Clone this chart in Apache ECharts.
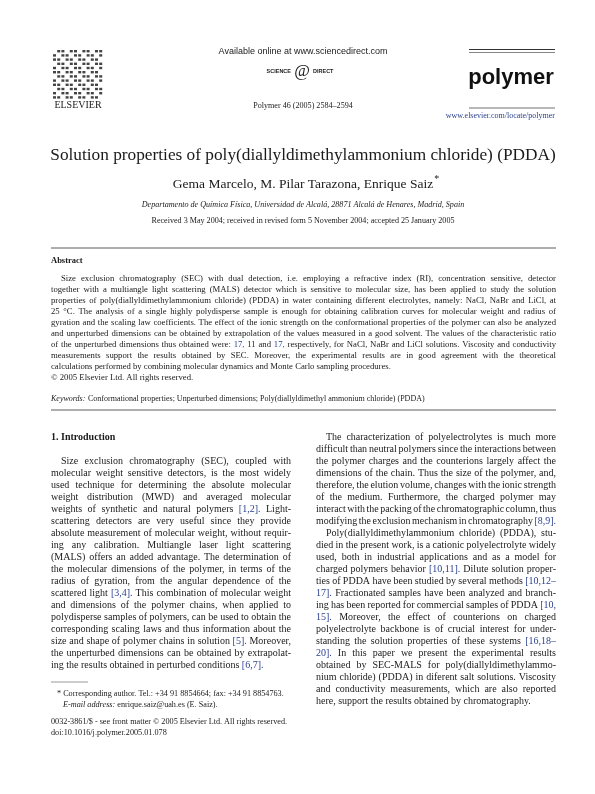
<!DOCTYPE html>
<html><head><meta charset="utf-8">
<script src="https://cdn.jsdelivr.net/npm/echarts@6/dist/echarts.min.js"></script>
<style>html,body{margin:0;padding:0;background:#fff}#page{width:595px;height:794px}</style>
</head><body><div id="page"></div>
<script>
var serif = '"Liberation Serif", "DejaVu Serif", serif';
var sans = '"Liberation Sans", Arial, sans-serif';

var title = 'Solution properties of poly(diallyldimethylammonium chloride) (PDDA)';
var authors = 'Gema Marcelo, M. Pilar Tarazona, Enrique Saiz';
var affiliation = 'Departamento de Química Física, Universidad de Alcalá, 28871 Alcalá de Henares, Madrid, Spain';
var received = 'Received 3 May 2004; received in revised form 5 November 2004; accepted 25 January 2005';

// '>' marks an indented first line, '|' a line that is not justified
var abstractLines = [
  '>Size exclusion chromatography (SEC) with dual detection, i.e. employing a refractive index (RI), concentration sensitive, detector',
  'together with a multiangle light scattering (MALS) detector which is sensitive to molecular size, has been applied to study the solution',
  'properties of poly(diallyldimethylammonium chloride) (PDDA) in water containing different electrolytes, namely: NaCl, NaBr and LiCl, at',
  '25 °C. The analysis of a single highly polydisperse sample is enough for obtaining calibration curves for molecular weight and radius of',
  'gyration and the scaling law coefficients. The effect of the ionic strength on the conformational properties of the polymer can also be analyzed',
  'and unperturbed dimensions can be obtained by extrapolation of the values measured in a good solvent. The values of the characteristic ratio',
  'of the unperturbed dimensions thus obtained were: 17, 11 and 17, respectively, for NaCl, NaBr and LiCl solutions. Viscosity and conductivity',
  'measurements support the results obtained by SEC. Moreover, the experimental results are in good agreement with the theoretical',
  '|calculations performed by combining molecular dynamics and Monte Carlo sampling procedures.',
  '|© 2005 Elsevier Ltd. All rights reserved.'
];

var leftLines = [
  '>Size exclusion chromatography (SEC), coupled with',
  'molecular weight sensitive detectors, is the most widely',
  'used technique for determining the absolute molecular',
  'weight distribution (MWD) and averaged molecular',
  'weights of synthetic and natural polymers [1,2]. Light-',
  'scattering detectors are very useful since they provide',
  'absolute measurement of molecular weight, without requir-',
  'ing any calibration. Multiangle laser light scattering',
  '(MALS) offers an added advantage. The determination of',
  'the molecular dimensions of the polymer, in terms of the',
  'radius of gyration, from the angular dependence of the',
  'scattered light [3,4]. This combination of molecular weight',
  'and dimensions of the polymer chains, when applied to',
  'polydisperse samples of polymers, can be used to obtain the',
  'corresponding scaling laws and thus information about the',
  'size and shape of polymer chains in solution [5]. Moreover,',
  'the unperturbed dimensions can be obtained by extrapolat-',
  '|ing the results obtained in perturbed conditions [6,7].'
];

var rightLines = [
  '>The characterization of polyelectrolytes is much more',
  'difficult than neutral polymers since the interactions between',
  'the polymer charges and the counterions largely affect the',
  'dimensions of the chain. Thus the size of the polymer, and,',
  'therefore, the elution volume, changes with the ionic strength',
  'of the medium. Furthermore, the charged polymer may',
  'interact with the packing of the chromatographic column, thus',
  'modifying the exclusion mechanism in chromatography [8,9].',
  '>Poly(diallyldimethylammonium chloride) (PDDA), stu-',
  'died in the present work, is a cationic polyelectrolyte widely',
  'used, both in industrial applications and as a model for',
  'charged polymers behavior [10,11]. Dilute solution proper-',
  'ties of PDDA have been studied by several methods [10,12–',
  '17]. Fractionated samples have been analyzed and branch-',
  'ing has been reported for commercial samples of PDDA [10,',
  '15]. Moreover, the effect of counterions on charged',
  'polyelectrolyte backbone is of crucial interest for under-',
  'standing the solution properties of these systems [16,18–',
  '20]. In this paper we present the experimental results',
  'obtained by SEC-MALS for poly(diallyldimethylammo-',
  'nium chloride) (PDDA) in diferent salt solutions. Viscosity',
  'and conductivity measurements, which are also reported',
  '|here, support the results obtained by chromatography.'
];

var footnoteLines = [
  '* Corresponding author. Tel.: +34 91 8854664; fax: +34 91 8854763.',
  'enrique.saiz@uah.es (E. Saiz).'
];
var bottomLines = [
  '0032-3861/$ - see front matter © 2005 Elsevier Ltd. All rights reserved.',
  'doi:10.1016/j.polymer.2005.01.078'
];

var ctx = document.createElement('canvas').getContext('2d');
function measure(s, font) { ctx.font = font; return ctx.measureText(s).width; }

function txt(x, y, s, size, extra) {
  extra = extra || {};
  return { type: 'text', silent: true, style: {
    text: s, x: x, y: y, font: (extra.font ? extra.font + ' ' : '') + size + 'px ' + (extra.family || serif),
    fill: extra.fill || '#1a1a1a', textAlign: extra.align || 'left', textVerticalAlign: 'middle' } };
}
function line(x1, y, x2, w) {
  return { type: 'line', silent: true, shape: { x1: x1, y1: y, x2: x2, y2: y }, style: { stroke: '#333', lineWidth: w || 0.6 } };
}

// justified block of lines, word by word; shrinks a line that would overflow
function block(els, lines, x0, x1, y0, step, size) {
  lines.forEach(function (raw, i) {
    var indent = 0, just = true, s = raw, sz = size;
    if (s[0] === '>') { indent = 10; s = s.slice(1); }
    if (s[0] === '|') { just = false; s = s.slice(1); }
    var words = s.split(' ');
    var font = sz + 'px ' + serif;
    var total = measure(words.join(''), font);
    var minSp = measure(' ', font) * 0.6;
    var room = x1 - x0 - indent - minSp * (words.length - 1);
    if (total > room) { sz = sz * room / total; font = sz + 'px ' + serif; }
    var widths = words.map(function (w) { return measure(w, font); });
    total = widths.reduce(function (a, b) { return a + b; }, 0);
    var sp = measure(' ', font);
    if (just && words.length > 1) sp = (x1 - x0 - indent - total) / (words.length - 1);
    var x = x0 + indent, y = y0 + i * step;
    words.forEach(function (w, k) {
      var cite = /[\[\]]/.test(w) || (/^\d+[\]–,]/.test(w));
      els.push(txt(x, y, w, sz, { fill: cite ? '#2a3f8f' : '#1a1a1a' }));
      x += widths[k] + sp;
    });
  });
}

var els = [];
// header
for (var r = 0; r < 12; r++) for (var c = 0; c < 12; c++) {
  if ((r * 7 + c * 5) % 3 !== 0) els.push({ type: 'rect', silent: true,
    shape: { x: 53 + c * 4.2, y: 50 + r * 4.2, width: 3, height: 2.4 }, style: { fill: '#444' } });
}
els.push(txt(78, 105, 'ELSEVIER', 10, { align: 'center' }));
els.push(txt(303, 52, 'Available online at www.sciencedirect.com', 9, { align: 'center', family: sans }));
els.push(txt(291, 71, 'SCIENCE', 5.5, { align: 'right', font: 'bold', family: sans }));
els.push(txt(302, 72, '@', 17, { align: 'center', family: serif }));
els.push(txt(313, 71, 'DIRECT', 5.5, { font: 'bold', family: sans }));
els.push(txt(303, 106, 'Polymer 46 (2005) 2584–2594', 8.1, { align: 'center' }));
els.push(line(469, 49.5, 555, 1));
els.push(line(469, 52.5, 555, 0.6));
els.push(txt(511, 78, 'polymer', 22, { align: 'center', font: 'bold', family: sans, fill: '#111' }));
els.push(line(469, 108, 555, 0.7));
els.push(txt(555, 116, 'www.elsevier.com/locate/polymer', 8, { align: 'right', fill: '#2a3f8f' }));
// title block
els.push(txt(303, 155, title, 17.3, { align: 'center' }));
els.push(txt(303, 184, authors, 13.5, { align: 'center' }));
els.push(txt(303 + measure(authors, '13.5px ' + serif) / 2 + 1, 179, '*', 10));
els.push(txt(303, 205, affiliation, 8.1, { align: 'center', font: 'italic' }));
els.push(txt(303, 221, received, 8.1, { align: 'center' }));
els.push(line(51, 248, 556, 0.8));
els.push(txt(51, 261, 'Abstract', 8.5, { font: 'bold' }));
block(els, abstractLines, 51, 556, 279, 11, 8.7);
els.push(txt(51, 399, 'Keywords:', 8, { font: 'italic' }));
els.push(txt(88, 399, 'Conformational properties; Unperturbed dimensions; Poly(diallyldimethyl ammonium chloride) (PDDA)', 8));
els.push(line(51, 410, 556, 0.8));
// body
els.push(txt(51, 437, '1. Introduction', 10, { font: 'bold' }));
block(els, leftLines, 51, 291, 461, 12, 10);
block(els, rightLines, 316, 556, 437, 12, 10);
els.push(line(51, 682, 88, 0.5));
els.push(txt(57, 694, footnoteLines[0], 8.2));
els.push(txt(63, 705, 'E-mail address:', 8.2, { font: 'italic' }));
els.push(txt(63 + measure('E-mail address: ', 'italic 8.2px ' + serif), 705, footnoteLines[1], 8.2));
bottomLines.forEach(function (s, i) { els.push(txt(51, 722 + i * 10.5, s, 8.2)); });

var myChart = echarts.init(document.getElementById('page'));
myChart.setOption({ animation: false, backgroundColor: '#fff', graphic: els });
</script></body></html>
